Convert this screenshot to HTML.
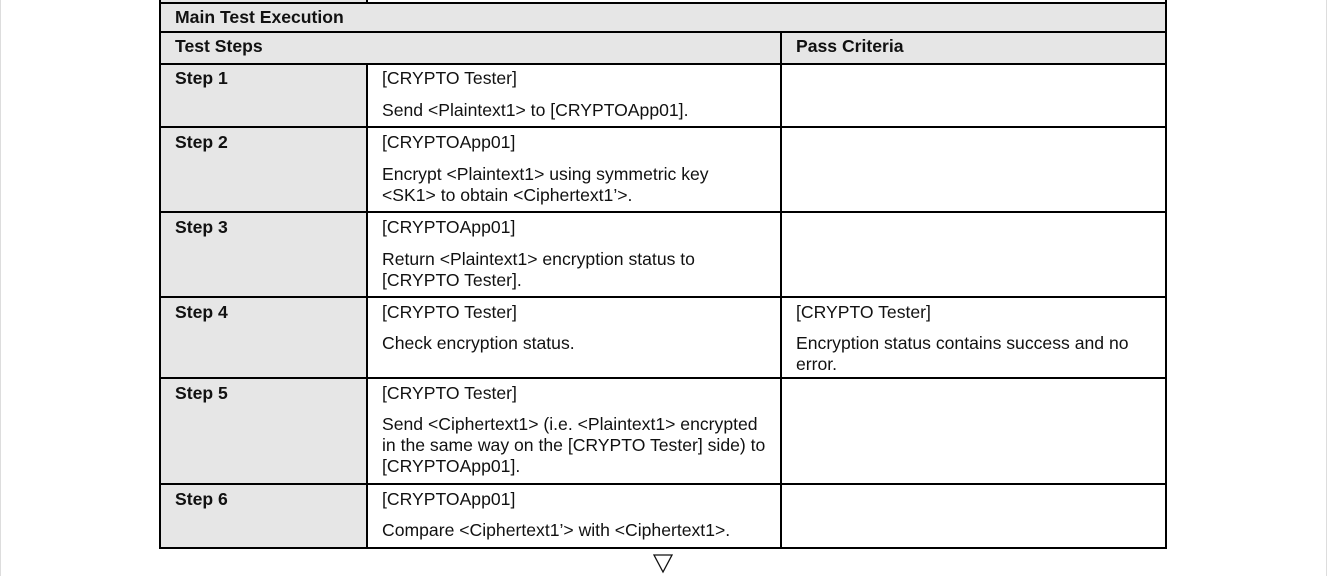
<!DOCTYPE html>
<html><head><style>
body{margin:0;width:1328px;height:576px;background:#fff;position:relative;overflow:hidden;font-family:"Liberation Sans",sans-serif;font-size:17.6px;color:#111}
.c{position:absolute}
.g{background:#e6e6e6}
.h{position:absolute;height:2px;background:#000}
.v{position:absolute;width:2px;background:#000}
.t{position:absolute;line-height:21px;white-space:nowrap;margin-top:-1px}
.b{font-weight:bold}
</style></head><body>
<div style="position:absolute;left:0;top:0;width:1px;height:576px;background:#ddd"></div>
<div style="position:absolute;left:1326px;top:0;width:1px;height:576px;background:#ddd"></div>
<div class="c g" style="left:160px;top:0;width:207px;height:3px"></div>
<div class="c g" style="left:160px;top:3px;width:1006px;height:61px"></div>
<div class="c g" style="left:160px;top:64px;width:207px;height:484px"></div>

<div class="h" style="left:159px;top:2px;width:1008px"></div>
<div class="h" style="left:159px;top:31px;width:1008px"></div>
<div class="h" style="left:159px;top:63px;width:1008px"></div>
<div class="h" style="left:159px;top:126px;width:1008px"></div>
<div class="h" style="left:159px;top:211px;width:1008px"></div>
<div class="h" style="left:159px;top:296px;width:1008px"></div>
<div class="h" style="left:159px;top:377px;width:1008px"></div>
<div class="h" style="left:159px;top:483px;width:1008px"></div>
<div class="h" style="left:159px;top:547px;width:1008px"></div>
<div class="v" style="left:159px;top:0;height:549px"></div>
<div class="v" style="left:1165px;top:0;height:549px"></div>
<div class="v" style="left:366px;top:0;height:3px"></div>
<div class="v" style="left:366px;top:63px;height:486px"></div>
<div class="v" style="left:780px;top:31px;height:518px"></div>

<div class="t b" style="left:175px;top:8px">Main Test Execution</div>
<div class="t b" style="left:175px;top:37px">Test Steps</div>
<div class="t b" style="left:796px;top:37px">Pass Criteria</div>

<div class="t b" style="left:175px;top:69px">Step 1</div>
<div class="t" style="left:382px;top:69px">[CRYPTO Tester]</div>
<div class="t" style="left:382px;top:101px">Send &lt;Plaintext1&gt; to [CRYPTOApp01].</div>

<div class="t b" style="left:175px;top:133px">Step 2</div>
<div class="t" style="left:382px;top:133px">[CRYPTOApp01]</div>
<div class="t" style="left:382px;top:165px">Encrypt &lt;Plaintext1&gt; using symmetric key<br>&lt;SK1&gt; to obtain &lt;Ciphertext1’&gt;.</div>

<div class="t b" style="left:175px;top:218px">Step 3</div>
<div class="t" style="left:382px;top:218px">[CRYPTOApp01]</div>
<div class="t" style="left:382px;top:250px">Return &lt;Plaintext1&gt; encryption status to<br>[CRYPTO Tester].</div>

<div class="t b" style="left:175px;top:303px">Step 4</div>
<div class="t" style="left:382px;top:303px">[CRYPTO Tester]</div>
<div class="t" style="left:382px;top:334px">Check encryption status.</div>
<div class="t" style="left:796px;top:303px">[CRYPTO Tester]</div>
<div class="t" style="left:796px;top:334px">Encryption status contains success and no<br>error.</div>

<div class="t b" style="left:175px;top:384px">Step 5</div>
<div class="t" style="left:382px;top:384px">[CRYPTO Tester]</div>
<div class="t" style="left:382px;top:415px">Send &lt;Ciphertext1&gt; (i.e. &lt;Plaintext1&gt; encrypted<br>in the same way on the [CRYPTO Tester] side) to<br>[CRYPTOApp01].</div>

<div class="t b" style="left:175px;top:490px">Step 6</div>
<div class="t" style="left:382px;top:490px">[CRYPTOApp01]</div>
<div class="t" style="left:382px;top:521px">Compare &lt;Ciphertext1’&gt; with &lt;Ciphertext1&gt;.</div>

<svg style="position:absolute;left:652px;top:553px" width="24" height="22"><polygon points="2,2 20,2 11,19" fill="none" stroke="#111" stroke-width="1.3"/></svg>
</body></html>
